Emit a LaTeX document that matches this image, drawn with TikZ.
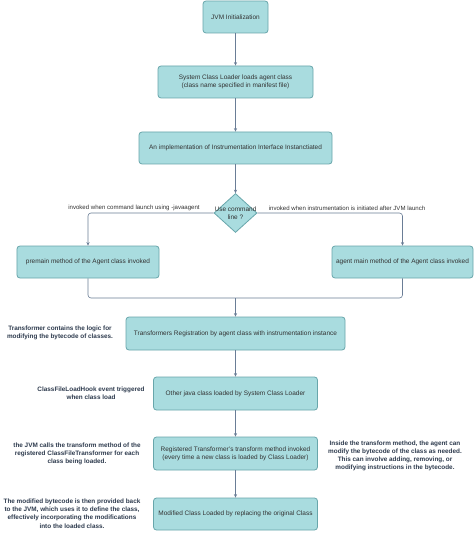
\documentclass[tikz,border=0pt]{standalone}
\usepackage{fontspec}
\setmainfont{Liberation Sans}
\usetikzlibrary{arrows.meta,shapes.geometric}
\definecolor{boxfill}{HTML}{A9DCDF}
\definecolor{boxline}{HTML}{68A6AB}
\definecolor{conn}{HTML}{6A7D96}
\definecolor{txt}{HTML}{333333}
\definecolor{notetxt}{HTML}{2E3B4E}
\tikzset{
  stepbox/.style={draw=boxline, fill=boxfill, rounded corners=3bp, line width=0.8bp,
    align=center, text=txt, font=\fontsize{6.5}{8.2}\selectfont, inner sep=0pt},
  decision/.style={diamond, draw=boxline, fill=boxfill, line width=0.8bp, aspect=1,
    inner sep=0pt, text=txt},
  conn/.style={draw=conn, line width=0.6bp, -{Stealth[length=3.5bp,width=3.2bp]}},
  plainconn/.style={draw=conn, line width=0.6bp},
  edgelabel/.style={text=txt, font=\fontsize{6.1}{7}\selectfont, inner sep=0pt},
  note/.style={text=notetxt, font=\bfseries\fontsize{6.4}{8.2}\selectfont, align=center, inner sep=0pt}
}
\begin{document}
\begin{tikzpicture}[x=1bp,y=-1bp]
\useasboundingbox[fill=white] (0,0) rectangle (474,535);

\node[stepbox, minimum width=65bp, minimum height=32bp] (jvm) at (235.5,17) {JVM Initialization};
\node[stepbox, minimum width=155bp, minimum height=32bp] (scl) at (235.5,82) {System Class Loader loads agent class\\(class name specified in manifest file)};
\node[stepbox, minimum width=193bp, minimum height=32bp] (impl) at (235.5,148) {An implementation of Instrumentation Interface Instanctiated};
\node[decision, minimum width=43bp, minimum height=41bp, yscale=0.95] (dec) at (235.5,213) {};
\node[align=center, text=txt, font=\fontsize{6.5}{8}\selectfont, inner sep=0pt] (dectxt) at (235.5,213) {Use command\\line ?};
\node[stepbox, minimum width=142bp, minimum height=32bp] (pre) at (88,262) {premain method of the Agent class invoked};
\node[stepbox, minimum width=141bp, minimum height=32bp] (agm) at (402.5,262) {agent main method of the Agent class invoked};
\node[stepbox, minimum width=219bp, minimum height=33bp] (trans) at (235.5,333.5) {Transformers Registration by agent class with instrumentation instance};
\node[stepbox, minimum width=164bp, minimum height=33bp] (other) at (235.5,393.5) {Other java class loaded by System Class Loader};
\node[stepbox, minimum width=164bp, minimum height=33bp] (reg) at (235.5,453.5) {Registered Transformer's transform method invoked\\(every time a new class is loaded by Class Loader)};
\node[stepbox, minimum width=164bp, minimum height=32bp] (mod) at (235.5,514) {Modified Class Loaded by replacing the original Class};

\coordinate (lturn) at (88,213);
\coordinate (rturn) at (402.5,213);
\coordinate (lmerge) at (88,298);
\coordinate (rmerge) at (402.5,298);
\coordinate (cmerge) at (235.5,298);

\draw[conn] (jvm) -- (scl);
\draw[conn] (scl) -- (impl);
\draw[conn] (impl) -- (dec);
\draw[conn, rounded corners=3bp] (dec.west) -- (lturn) -- (pre.north);
\draw[conn, rounded corners=3bp] (dec.east) -- (rturn) -- (agm.north);
\draw[plainconn, rounded corners=3bp] (pre.south) -- (lmerge) -- (cmerge);
\draw[plainconn, rounded corners=3bp] (agm.south) -- (rmerge) -- (cmerge);
\draw[conn] (cmerge) -- (trans.north);
\draw[conn] (trans) -- (other);
\draw[conn] (other) -- (reg);
\draw[conn] (reg) -- (mod);

\node[edgelabel] (llab) at (134,208) {invoked when command launch using -javaagent};
\node[edgelabel] (rlab) at (347,208) {invoked when instrumentation is initiated after JVM launch};

\node[note] (n1) at (60,333) {Transformer contains the logic for\\modifying the bytecode of classes.};
\node[note] (n2) at (91,393.5) {ClassFileLoadHook event triggered\\when class load};
\node[note] (n3) at (77,454) {the JVM calls the transform method of the\\registered ClassFileTransformer for each\\class being loaded.};
\node[note] (n4) at (395,456) {Inside the transform method, the agent can\\modify the bytecode of the class as needed.\\This can involve adding, removing, or\\modifying instructions in the bytecode.};
\node[note] (n5) at (72,513.5) {The modified bytecode is then provided back\\to the JVM, which uses it to define the class,\\effectively incorporating the modifications\\into the loaded class.};
\end{tikzpicture}
\end{document}
